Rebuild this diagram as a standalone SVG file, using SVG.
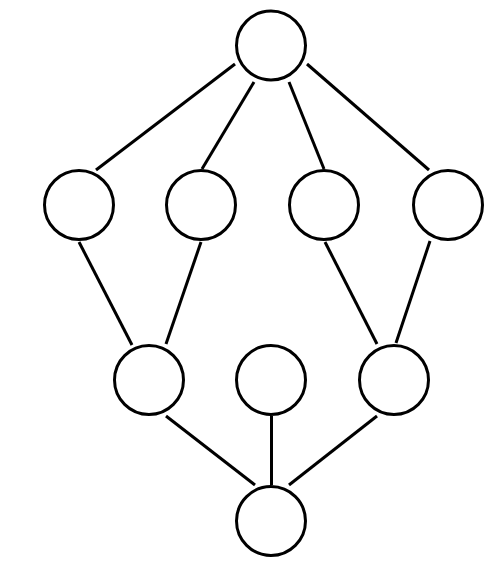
<svg xmlns="http://www.w3.org/2000/svg" width="503" height="587" viewBox="0 0 503 587">
<style>
.n{fill:#fff;stroke:#000;stroke-width:3}
.e line{stroke:#000;stroke-width:3;stroke-linecap:butt}
</style>
<rect width="503" height="587" fill="#fff"/>
<g class="e" id="connectors">
<line x1="235" y1="64" x2="96" y2="170"/>
<line x1="254" y1="82" x2="202" y2="169"/>
<line x1="289" y1="82" x2="324" y2="169"/>
<line x1="307" y1="64" x2="429" y2="170"/>
<line x1="79" y1="242" x2="132" y2="345"/>
<line x1="201" y1="242" x2="166" y2="344"/>
<line x1="325" y1="242" x2="377" y2="344"/>
<line x1="430" y1="241" x2="396" y2="343"/>
<line x1="166" y1="416" x2="255" y2="485"/>
<line x1="271.5" y1="416" x2="271.5" y2="485"/>
<line x1="377" y1="416" x2="289" y2="485"/>
</g>
<g id="n1"><circle class="n" cx="271" cy="45.5" r="34.5"/></g>
<g id="n2"><circle class="n" cx="79" cy="205" r="34.5"/></g>
<g id="n3"><circle class="n" cx="201" cy="205" r="34.5"/></g>
<g id="n4"><circle class="n" cx="324" cy="205" r="34.5"/></g>
<g id="n5"><circle class="n" cx="448" cy="205" r="34.5"/></g>
<g id="n6"><circle class="n" cx="149" cy="380" r="34.5"/></g>
<g id="n7"><circle class="n" cx="271" cy="380" r="34.5"/></g>
<g id="n8"><circle class="n" cx="394" cy="380" r="34.5"/></g>
<g id="n9"><circle class="n" cx="271" cy="521" r="34.5"/></g>
</svg>
